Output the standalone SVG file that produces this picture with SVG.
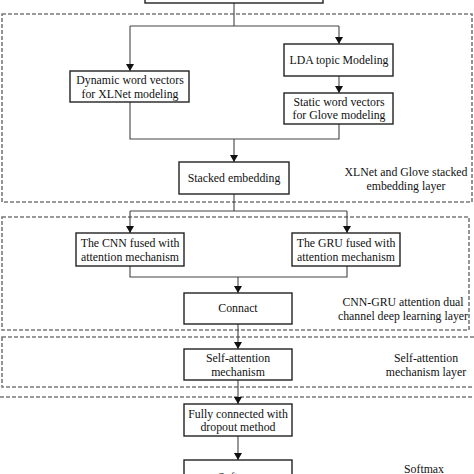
<svg xmlns="http://www.w3.org/2000/svg" width="474" height="474" viewBox="0 0 474 474">
<defs>
<style>
.box{fill:#fff;stroke:#222;stroke-width:1.4}
.dash{fill:none;stroke:#7a7a7a;stroke-width:1.6;stroke-dasharray:4 2}
.ln{fill:none;stroke:#444;stroke-width:1.1}
.t{font-family:'Liberation Serif','Times New Roman',serif;font-size:11.8px;fill:#111;text-anchor:middle}
</style>
</defs>
<rect width="474" height="474" fill="#fff"/>
<g id="layers">
<rect class="dash" x="2" y="14" width="470" height="188"/>
<rect class="dash" x="2" y="217" width="467" height="113"/>
<rect class="dash" x="2" y="337" width="480" height="50"/>
<rect class="dash" x="-6" y="397" width="490" height="100"/>
</g>
<g id="connectors">
<path class="ln" d="M234,3 V26 M130,26 H339"/>
<path class="ln" d="M130,26 V71"/>
<path class="ln" d="M339,26 V44"/>
<path class="ln" d="M339,76 V93"/>
<path class="ln" d="M130,102 V139 H339 V124 M234,139 V162"/>
<path class="ln" d="M234,194 V211 M130,211 H347 M130,211 V233 M347,211 V233"/>
<path class="ln" d="M130,266 V277 H347 V266 M238,277 V293"/>
<path class="ln" d="M238,324 V349 M238,380 V404 M238,436 V460"/>
<g fill="#111">
<path d="M126,64 L134,64 L130,71 Z"/>
<path d="M335,37 L343,37 L339,44 Z"/>
<path d="M335,86 L343,86 L339,93 Z"/>
<path d="M230,155 L238,155 L234,162 Z"/>
<path d="M126,226 L134,226 L130,233 Z"/>
<path d="M343,226 L351,226 L347,233 Z"/>
<path d="M234,286 L242,286 L238,293 Z"/>
<path d="M234,342 L242,342 L238,349 Z"/>
<path d="M234,397 L242,397 L238,404 Z"/>
<path d="M234,453 L242,453 L238,460 Z"/>
</g>
</g>
<g id="top-node"><rect class="box" x="145" y="-20" width="178" height="23"/></g>
<g id="dynamic"><rect class="box" x="70" y="71" width="119" height="31"/>
<text class="t" x="130" y="84">Dynamic word vectors</text><text class="t" x="130" y="97.5">for XLNet modeling</text></g>
<g id="lda"><rect class="box" x="284" y="44" width="109" height="32"/>
<text class="t" x="339" y="64">LDA topic Modeling</text></g>
<g id="static"><rect class="box" x="284" y="93" width="109" height="31"/>
<text class="t" x="339" y="105.5">Static word vectors</text><text class="t" x="339" y="119">for Glove modeling</text></g>
<g id="stacked"><rect class="box" x="179" y="162" width="110" height="32"/>
<text class="t" x="234" y="182">Stacked embedding</text></g>
<g id="label1"><text class="t" x="406" y="176">XLNet and Glove stacked</text><text class="t" x="406" y="190">embedding layer</text></g>
<g id="cnn"><rect class="box" x="76" y="233" width="108" height="33"/>
<text class="t" x="130" y="246.5">The CNN fused with</text><text class="t" x="130" y="260.5">attention mechanism</text></g>
<g id="gru"><rect class="box" x="292" y="233" width="108" height="33"/>
<text class="t" x="346" y="246.5">The GRU fused with</text><text class="t" x="346" y="260.5">attention mechanism</text></g>
<g id="connact"><rect class="box" x="184" y="293" width="108" height="31"/>
<text class="t" x="238" y="312">Connact</text></g>
<g id="label2"><text class="t" x="403" y="306">CNN-GRU attention dual</text><text class="t" x="403" y="320">channel deep learning layer</text></g>
<g id="selfatt"><rect class="box" x="184" y="349" width="108" height="31"/>
<text class="t" x="238" y="362">Self-attention</text><text class="t" x="238" y="375.5">mechanism</text></g>
<g id="label3"><text class="t" x="426" y="362">Self-attention</text><text class="t" x="426" y="375.5">mechanism layer</text></g>
<g id="fc"><rect class="box" x="184" y="404" width="108" height="32"/>
<text class="t" x="238" y="417.5">Fully connected with</text><text class="t" x="238" y="431">dropout method</text></g>
<g id="softmax"><rect class="box" x="184" y="460" width="108" height="40"/>
<text class="t" x="238" y="481">Softmax</text></g>
<g id="label4"><text class="t" x="424" y="472.5">Softmax</text></g>
</svg>
